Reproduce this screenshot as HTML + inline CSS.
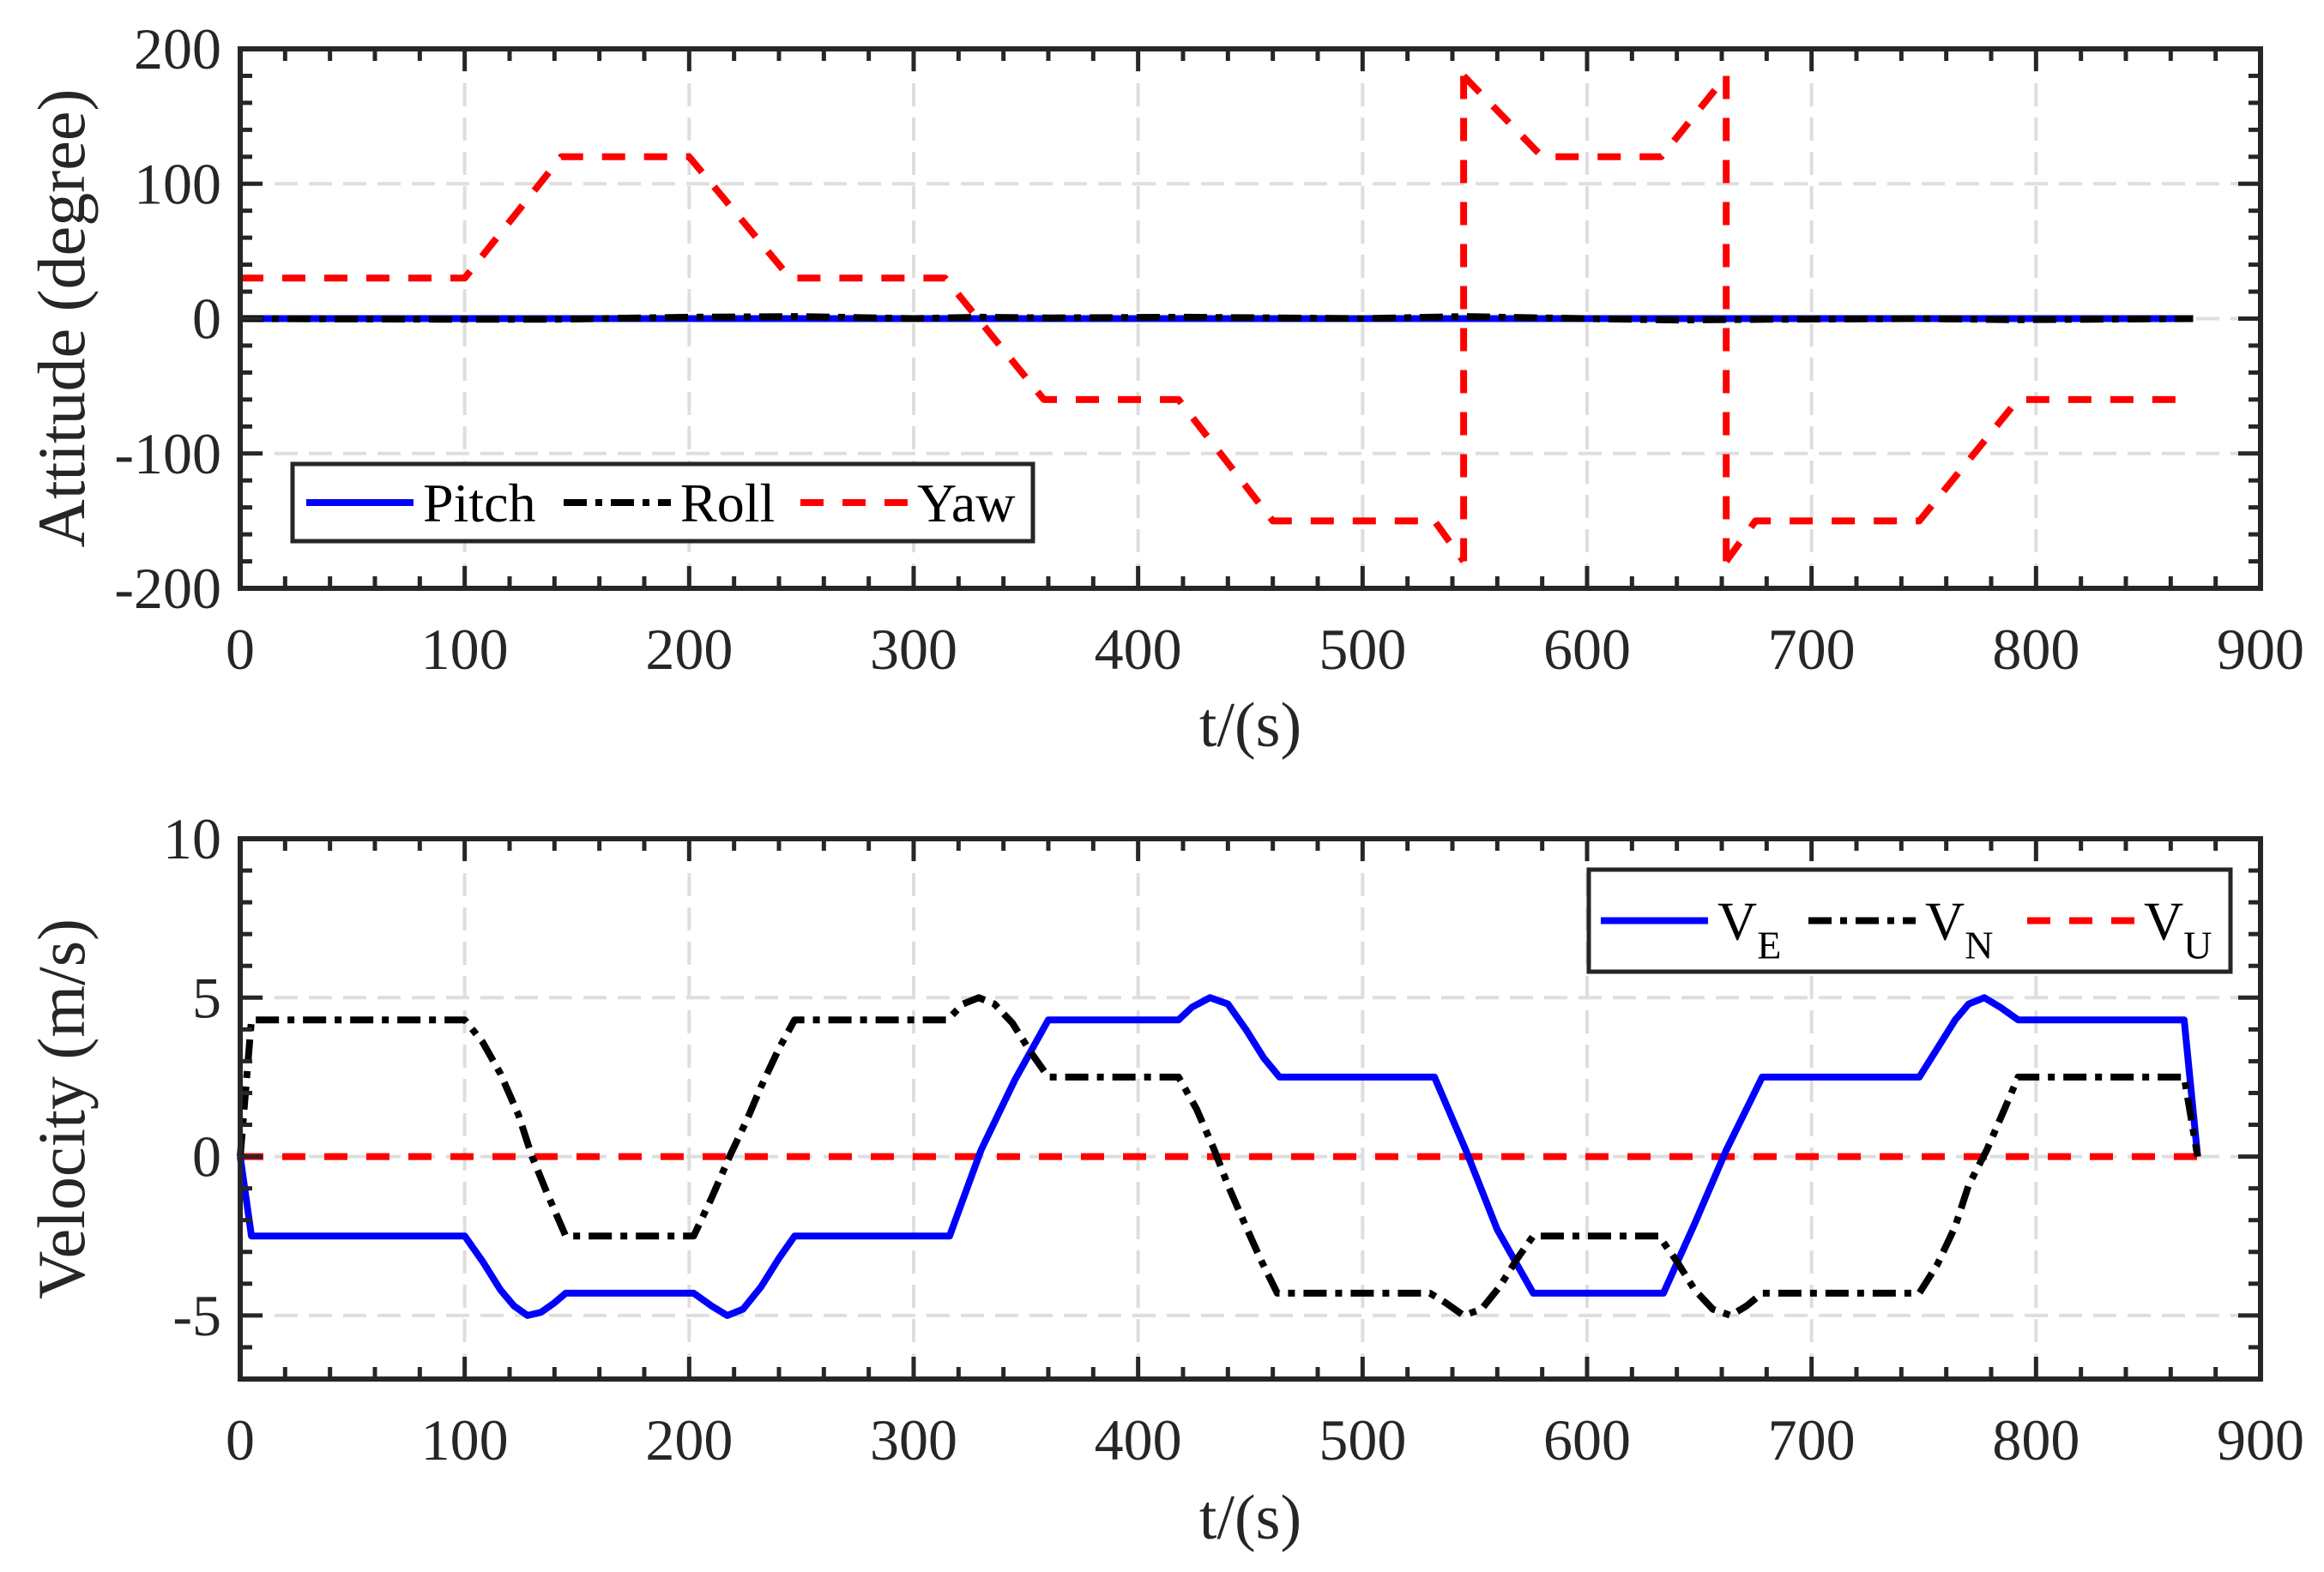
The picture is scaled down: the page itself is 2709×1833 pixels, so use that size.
<!DOCTYPE html>
<html><head><meta charset="utf-8"><style>
html,body{margin:0;padding:0;background:#fff}
svg{display:block;font-family:"Liberation Serif",serif}
</style></head><body>
<svg id="chart" width="2709" height="1833" viewBox="0 0 2709 1833" xmlns="http://www.w3.org/2000/svg"></svg>
<script>
// ---- data ----
const xTicks = [0,100,200,300,400,500,600,700,800,900];
const attTicks = [200,100,0,-100,-200];
const velTicks = [10,5,0,-5];
const yawT = [0,100,143,200,245,314,358,418,460,532,545];
const yawV = [30,30,120,120,30,30,-60,-60,-150,-150,-180];
const yaw2T = [545,580,633,662];
const yaw2V = [180,120,120,180];
const yaw3T = [662,675,748,792,870];
const yaw3V = [-180,-150,-150,-60,-60];
const pitchT = [0,870];
const pitchV = [0,0];
const rollT = [0,100,140,200,250,300,330,360,420,460,500,545,580,640,680,750,790,870];
const rollV = [0,-0.5,-0.5,1,1.5,0,1,0.5,1,0.5,0,1.5,0.5,-1,-0.5,0,-0.8,0];
const veT = [0,5,100,108,116,122,128,134,140,145,202,210,217,224,232,240,247,316,330,345,360,418,424,432,440,448,456,463,532,546,560,576,634,648,662,678,748,756,764,770,777,784,792,866,872];
const veV = [0,-2.5,-2.5,-3.3,-4.2,-4.7,-5,-4.9,-4.6,-4.3,-4.3,-4.7,-5,-4.8,-4.1,-3.2,-2.5,-2.5,0.2,2.4,4.3,4.3,4.7,5,4.8,4.0,3.1,2.5,2.5,0.2,-2.3,-4.3,-4.3,-2.1,0.2,2.5,2.5,3.4,4.3,4.8,5,4.7,4.3,4.3,0];
const vnT = [0,5,100,108,116,124,130,137,145,202,210,218,226,232,240,247,315,322,329,336,344,352,360,418,426,434,440,448,455,462,530,537,545,553,561,569,576,632,640,648,656,664,671,678,748,756,764,770,778,786,792,866,872];
const vnV = [0,4.3,4.3,3.6,2.6,1.3,0,-1.2,-2.5,-2.5,-1.3,0,1.2,2.2,3.4,4.3,4.3,4.8,5,4.8,4.2,3.3,2.5,2.5,1.5,0.2,-0.9,-2.2,-3.3,-4.3,-4.3,-4.6,-5,-4.8,-4.1,-3.2,-2.5,-2.5,-3.3,-4.2,-4.8,-5,-4.7,-4.3,-4.3,-3.4,-2.2,-0.9,0.2,1.5,2.5,2.5,0];
const vuT = [0,872];
const vuV = [0,0];

const NS="http://www.w3.org/2000/svg";
const svg=document.getElementById('chart');
function mk(tag,attrs,parent){const e=document.createElementNS(NS,tag);for(const k in attrs)e.setAttribute(k,attrs[k]);(parent||svg).appendChild(e);return e;}
const X0=280,X1=2635;
const LW=8;
function xs(t){return X0+(t/900)*(X1-X0);}
function panel(name,top,bot,ymin,ymax,yticks){
  const ys=v=>bot-(v-ymin)/(ymax-ymin)*(bot-top);
  const g=mk('g',{});
  
  
  xTicks.forEach(t=>{if(t>0&&t<900){const l=mk('line',{x1:xs(t),x2:xs(t),y1:top,y2:bot,stroke:'#dedede','stroke-width':4,'stroke-dasharray':'27,13'},g);}});
  yticks.forEach(v=>{if(v>ymin&&v<ymax){const l=mk('line',{x1:X0,x2:X1,y1:ys(v),y2:ys(v),stroke:'#dedede','stroke-width':4,'stroke-dasharray':'27,13'},g);}});
  return {g,ys};
}
function line(g,ts,vs,ys,color,dash,name){
  const p=ts.map((t,i)=>xs(t).toFixed(1)+','+ys(vs[i]).toFixed(1)).join(' ');
  const e=mk('polyline',{points:p,fill:'none',stroke:color,'stroke-width':LW,'stroke-dasharray':dash||'none','stroke-linejoin':'round'},g);
  
  
}
function axes(g,top,bot,ys,ymin,ymax,yticks,minorStep,yLabel,xLabelY,xTitleY,ycenter){
  for(let t=0;t<=900;t+=20){const len=t%100===0?26:14;
    mk('line',{x1:xs(t),x2:xs(t),y1:bot,y2:bot-len,stroke:'#262626','stroke-width':5},g);
    mk('line',{x1:xs(t),x2:xs(t),y1:top,y2:top+len,stroke:'#262626','stroke-width':5},g);}
  for(let v=ymin;v<=ymax+1e-9;v+=minorStep){const major=yticks.some(y=>Math.abs(y-v)<1e-9);const len=major?26:14;
    mk('line',{x1:X0,x2:X0+len,y1:ys(v),y2:ys(v),stroke:'#262626','stroke-width':5},g);
    mk('line',{x1:X1,x2:X1-len,y1:ys(v),y2:ys(v),stroke:'#262626','stroke-width':5},g);}
  const r=mk('rect',{x:X0,y:top,width:X1-X0,height:bot-top,fill:'none',stroke:'#262626','stroke-width':6},g);
  
  xTicks.forEach(t=>{const e=mk('text',{x:xs(t),y:xLabelY,'font-size':68,'text-anchor':'middle',fill:'#262626'},g);e.textContent=t;
    });
  yticks.forEach(v=>{const e=mk('text',{x:258,y:ys(v)+23,'font-size':68,'text-anchor':'end',fill:'#262626'},g);e.textContent=v;
    });
  const xt=mk('text',{x:(X0+X1)/2,y:xTitleY,'font-size':74,'text-anchor':'middle',fill:'#262626'},g);xt.textContent='t/(s)';
  
  const yt=mk('text',{x:0,y:0,'font-size':78,'text-anchor':'middle',fill:'#262626',transform:`translate(98,${ycenter}) rotate(-90)`},g);yt.textContent=yLabel;
  
}
// ---- top panel ----
const T1=57,B1=686;
const p1=panel('attitude',T1,B1,-200,200,attTicks);
line(p1.g,pitchT,pitchV,p1.ys,'#0000ff','none','pitch-line');
line(p1.g,rollT,rollV,p1.ys,'#000000','27,10,8,10','roll-line');
line(p1.g,yawT,yawV,p1.ys,'#ff0000','27,22','yaw-line-1');
line(p1.g,yaw2T,yaw2V,p1.ys,'#ff0000','27,22','yaw-line-2');
line(p1.g,yaw3T,yaw3V,p1.ys,'#ff0000','27,22','yaw-line-3');
line(p1.g,[545,545],[-180,180],p1.ys,'#ff0000','27,22','yaw-wrap-1');
line(p1.g,[662,662],[180,-180],p1.ys,'#ff0000','27,22','yaw-wrap-2');
axes(p1.g,T1,B1,p1.ys,-200,200,attTicks,20,'Attitude (degree)',780,870,371);
// ---- bottom panel ----
const T2=978,B2=1608;
const p2=panel('velocity',T2,B2,-7,10,velTicks);
line(p2.g,vuT,vuV,p2.ys,'#ff0000','27,22','vu-line');
line(p2.g,veT,veV,p2.ys,'#0000ff','none','ve-line');
line(p2.g,vnT,vnV,p2.ys,'#000000','27,10,8,10','vn-line');
axes(p2.g,T2,B2,p2.ys,-7,10,velTicks,1,'Velocity (m/s)',1702,1794,1293);
// ---- legends ----
function legend(name,x,y,w,h,items){
  const g=mk('g',{});
  
  
  mk('rect',{x,y,width:w,height:h,fill:'#fff',stroke:'#262626','stroke-width':5},g);
  items.forEach(it=>{
    const l=mk('line',{x1:it.lx,x2:it.lx+125,y1:y+h/2,y2:y+h/2,stroke:it.c,'stroke-width':LW,'stroke-dasharray':it.d},g);
    
    const t=mk('text',{x:it.lx+136,y:y+h/2+22,'font-size':64,fill:'#000'},g);
    
    t.textContent=it.t;
    if(it.sub){const s=mk('tspan',{'font-size':46,dy:22},t);s.textContent=it.sub;}
  });
}
legend('attitude-legend',341,541,863,90,[
 {lx:357,c:'#0000ff',d:'none',t:'Pitch'},
 {lx:657,c:'#000',d:'27,10,8,10',t:'Roll'},
 {lx:933,c:'#ff0000',d:'27,22',t:'Yaw'}]);
legend('velocity-legend',1852,1014,748,119,[
 {lx:1866,c:'#0000ff',d:'none',t:'V',sub:'E'},
 {lx:2108,c:'#000',d:'27,10,8,10',t:'V',sub:'N'},
 {lx:2363,c:'#ff0000',d:'27,22',t:'V',sub:'U'}]);
</script>
</body></html>
